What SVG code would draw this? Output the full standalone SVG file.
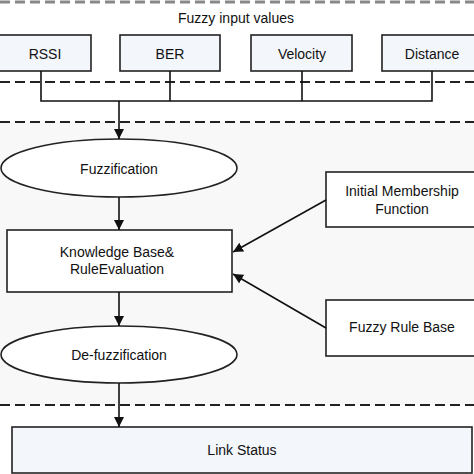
<svg xmlns="http://www.w3.org/2000/svg" width="474" height="474" viewBox="0 0 474 474">
<defs>
<marker id="arr" viewBox="0 0 10 10" refX="10" refY="5" markerWidth="10" markerHeight="10" markerUnits="userSpaceOnUse" orient="auto">
<path d="M0,0 L10,5 L0,10 z" fill="#111"/>
</marker>
<style>
.dash{stroke:#222;stroke-width:1.8;stroke-dasharray:10 5;fill:none}
.in{fill:#f3f6fb;stroke:#222;stroke-width:1.6}
.box{fill:#fff;stroke:#222;stroke-width:1.6}
.ell{fill:#fff;stroke:#222;stroke-width:1.6}
.t{font-family:"Liberation Sans",Arial,sans-serif;font-size:14px;fill:#111;text-anchor:middle}
.c{stroke:#111;stroke-width:1.6;fill:none}
</style>
</defs>
<rect x="0" y="0" width="474" height="474" fill="#fff"/>
<rect x="0" y="122" width="474" height="283" fill="#f8f8f8"/>
<line x1="0" y1="2" x2="474" y2="2" class="dash" style="stroke:#888;stroke-width:3"/>
<line x1="0" y1="82" x2="474" y2="82" class="dash"/>
<line x1="0" y1="122" x2="474" y2="122" class="dash"/>
<line x1="0" y1="405" x2="474" y2="405" class="dash"/>
<text class="t" x="236" y="23">Fuzzy input values</text>
<g id="rssi"><rect class="in" x="-2" y="35" width="93" height="36"/><text class="t" x="45" y="59">RSSI</text></g>
<g id="ber"><rect class="in" x="120" y="35" width="100" height="36"/><text class="t" x="170" y="59">BER</text></g>
<g id="velocity"><rect class="in" x="251" y="35" width="101" height="36"/><text class="t" x="302" y="59">Velocity</text></g>
<g id="distance"><rect class="in" x="382" y="35" width="96" height="36"/><text class="t" x="432" y="59">Distance</text></g>
<g id="fuzzification"><ellipse class="ell" cx="119" cy="168" rx="118" ry="29"/><text class="t" x="119" y="174">Fuzzification</text></g>
<g id="knowledge"><rect class="box" x="7" y="230" width="225" height="62"/><text class="t" x="117" y="257">Knowledge Base&amp;</text><text class="t" x="117" y="274">RuleEvaluation</text></g>
<g id="membership"><rect class="box" x="326" y="172" width="152" height="55"/><text class="t" x="402" y="196">Initial Membership</text><text class="t" x="402" y="214">Function</text></g>
<g id="rulebase"><rect class="box" x="326" y="300" width="152" height="56"/><text class="t" x="402" y="332">Fuzzy Rule Base</text></g>
<g id="defuzzification"><ellipse class="ell" cx="119" cy="354.5" rx="118" ry="28.5"/><text class="t" x="119" y="360">De-fuzzification</text></g>
<g id="linkstatus"><rect class="in" x="12" y="427" width="460" height="46"/><text class="t" x="242" y="455">Link Status</text></g>
<g id="connectors">
<polyline class="c" points="41,71 41,101 432,101 432,71"/>
<line class="c" x1="170" y1="71" x2="170" y2="101"/>
<line class="c" x1="302" y1="71" x2="302" y2="101"/>
<line class="c" x1="119" y1="101" x2="119" y2="139" marker-end="url(#arr)"/>
<line class="c" x1="119" y1="197" x2="119" y2="230" marker-end="url(#arr)"/>
<line class="c" x1="326" y1="200" x2="233" y2="252" marker-end="url(#arr)"/>
<line class="c" x1="326" y1="328" x2="233" y2="274" marker-end="url(#arr)"/>
<line class="c" x1="119" y1="292" x2="119" y2="326" marker-end="url(#arr)"/>
<line class="c" x1="119" y1="383" x2="119" y2="427" marker-end="url(#arr)"/>
</g>
</svg>
